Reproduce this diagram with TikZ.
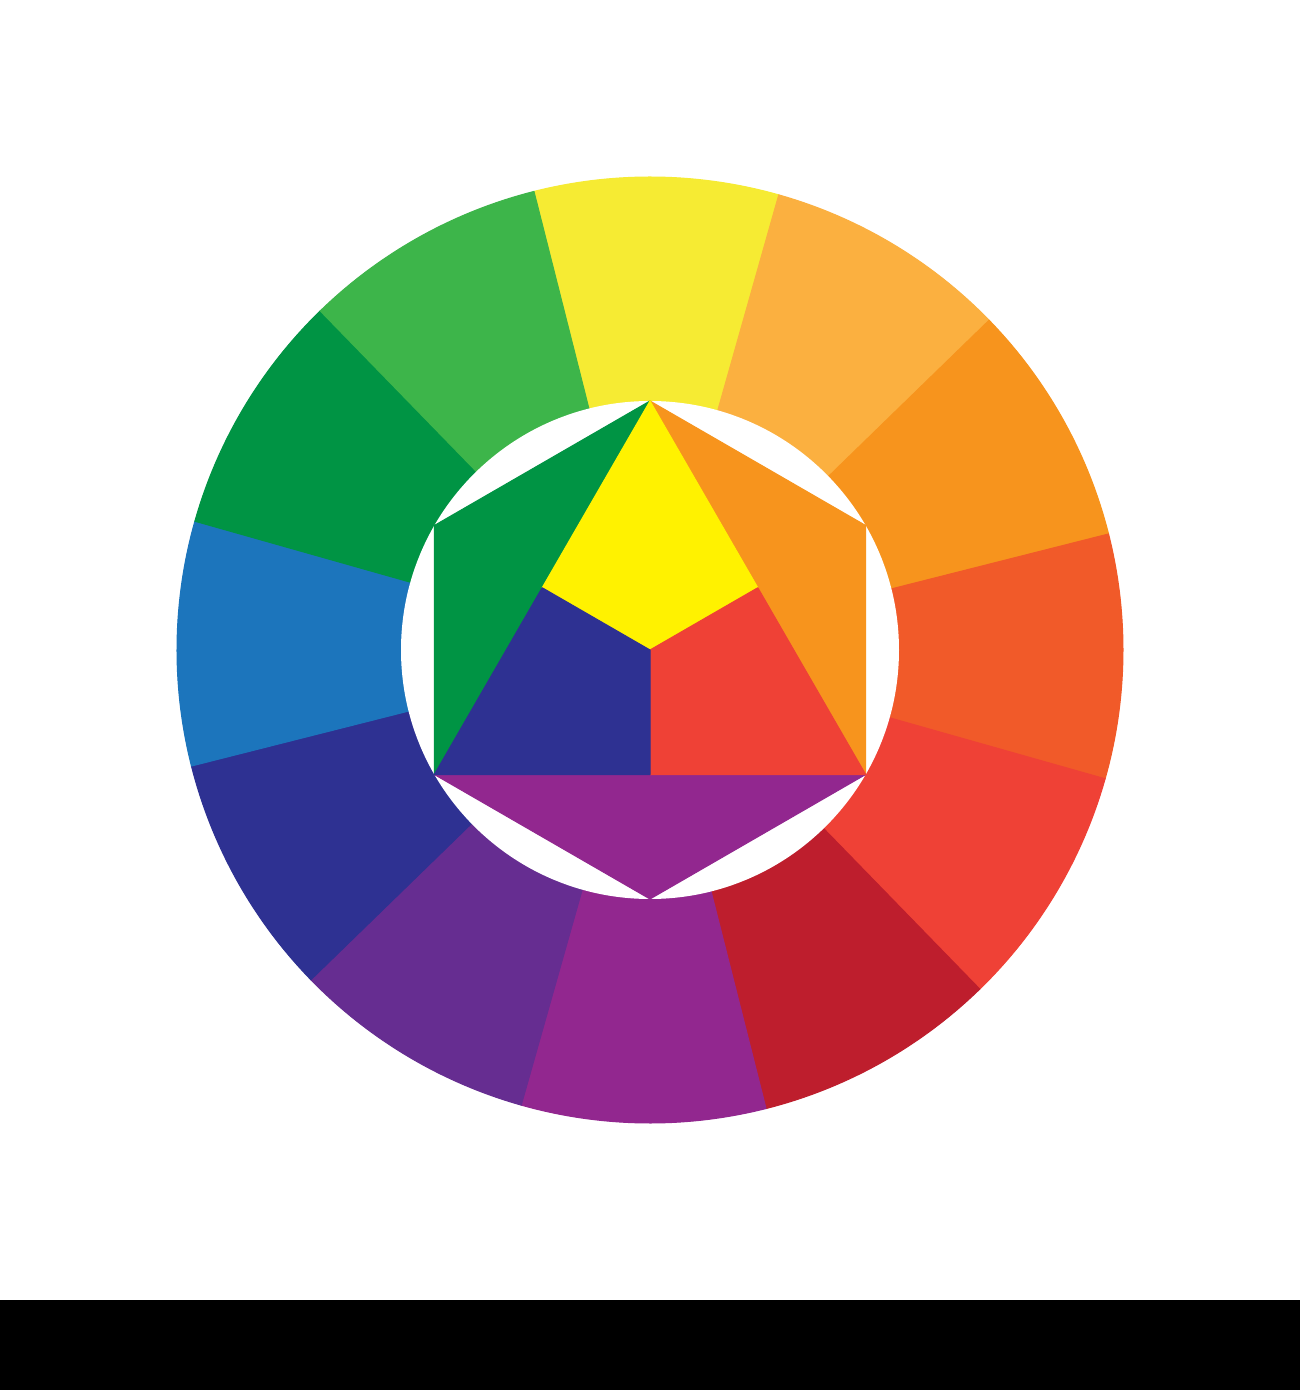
\documentclass[tikz,border=0pt]{standalone}
\usetikzlibrary{calc}
\definecolor{cY}{HTML}{F6EB33}
\definecolor{cLO}{HTML}{FBB040}
\definecolor{cO}{HTML}{F7941D}
\definecolor{cRO}{HTML}{F15A29}
\definecolor{cR}{HTML}{EF4136}
\definecolor{cDR}{HTML}{BE1E2D}
\definecolor{cP}{HTML}{92278F}
\definecolor{cV}{HTML}{662D91}
\definecolor{cI}{HTML}{2E3192}
\definecolor{cB}{HTML}{1C75BC}
\definecolor{cDG}{HTML}{009444}
\definecolor{cLG}{HTML}{3DB54A}
\definecolor{iY}{HTML}{FFF200}
\tikzset{seg/.style={fill=#1,draw=#1,line width=0.3pt,line join=round}}
\begin{document}
\begin{tikzpicture}
\useasboundingbox (0,0) rectangle (13,13.9);
\fill[white] (0,0) rectangle (13,13.9);
\fill[black] (0,0) rectangle (13,0.9);
\coordinate (O) at (6.5,7.4);
% outer ring (slightly rotated as in the reference)
\foreach \a/\c in {75/cY,45/cLO,15/cO,-15/cRO,-45/cR,-75/cDR,-105/cP,-135/cV,-165/cI,165/cB,135/cDG,105/cLG}
  \path[seg=\c] (O) -- ++(\a-0.8:4.73) arc[start angle=\a-0.8, end angle=\a+29.2, radius=4.73] -- cycle;
\fill[white] (O) circle (2.49);
% hexagon
\coordinate (T) at ($(O)+(90:2.49)$);
\coordinate (UR) at ($(O)+(30:2.49)$);
\coordinate (LR) at ($(O)+(-30:2.49)$);
\coordinate (B) at ($(O)+(-90:2.49)$);
\coordinate (LL) at ($(O)+(-150:2.49)$);
\coordinate (UL) at ($(O)+(150:2.49)$);
\coordinate (ML) at ($(T)!0.5!(LL)$);
\coordinate (MR) at ($(T)!0.5!(LR)$);
\coordinate (MB) at ($(LL)!0.5!(LR)$);
\path[seg=cDG] (T) -- (UL) -- (LL) -- cycle;
\path[seg=cO] (T) -- (UR) -- (LR) -- cycle;
\path[seg=cP] (LL) -- (LR) -- (B) -- cycle;
\path[seg=iY] (T) -- (MR) -- (O) -- (ML) -- cycle;
\path[seg=cR] (O) -- (MR) -- (LR) -- (MB) -- cycle;
\path[seg=cI] (O) -- (MB) -- (LL) -- (ML) -- cycle;
\end{tikzpicture}
\end{document}
